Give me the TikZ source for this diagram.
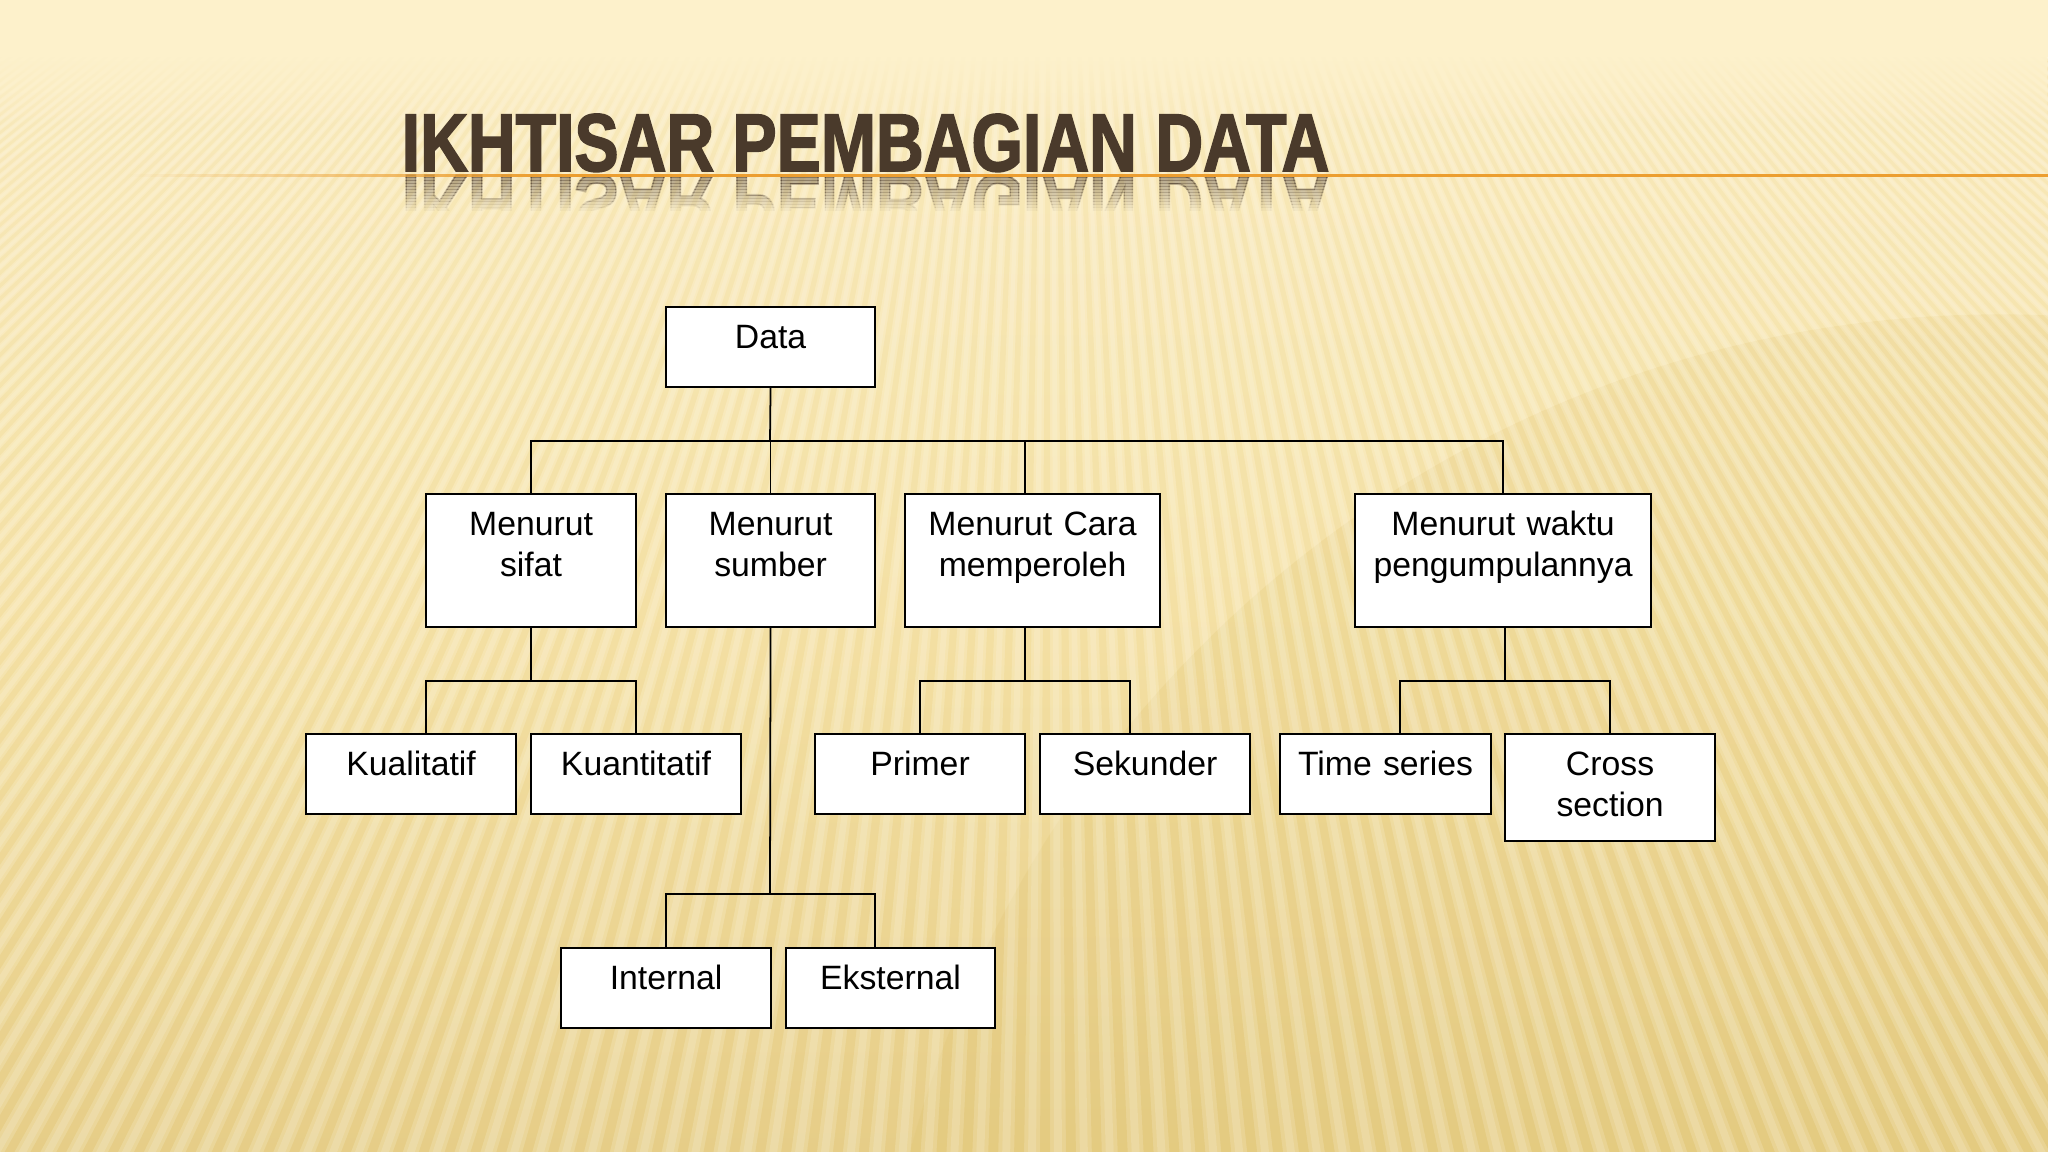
\documentclass[tikz,border=0pt]{standalone}
\usepackage{fontspec}
\setmainfont{Liberation Sans}
\newfontfamily\titlefam[BoldFeatures={FakeBold=2.2}]{Liberation Sans}
\usetikzlibrary{fadings}
\definecolor{bgtop}{RGB}{253,241,203}
\definecolor{bgupper}{RGB}{251,236,192}
\definecolor{bgmid}{RGB}{246,227,168}
\definecolor{bgbot}{RGB}{232,208,138}
\definecolor{titlebrown}{RGB}{74,58,43}
\definecolor{lineorange}{RGB}{236,158,48}
\definecolor{stripedark}{RGB}{190,150,60}
\definecolor{circlegold}{RGB}{220,190,100}
\tikzfading[name=fadeleft, left color=transparent!100, right color=transparent!0]
\tikzfading[name=fadedown, top color=transparent!0, bottom color=transparent!100]
\newcommand{\titletext}{\resizebox{9.27cm}{0.57cm}{\titlefam\bfseries IKHTISAR PEMBAGIAN DATA}}
\begin{document}
\begin{tikzpicture}[x=0.01cm,y=-0.01cm,
  box/.style={draw=black, fill=white, line width=0.5pt, inner sep=0pt, outer sep=0pt, anchor=north west},
  lbl/.style={font=\fontsize{9.6}{11.66}\selectfont, text width=3cm, align=center, inner sep=0pt, anchor=base, text=black},
  conn/.style={draw=black, line width=0.5pt},
  titlefont/.style={inner sep=0pt, anchor=base west, text=titlebrown}]
\useasboundingbox (0,0) rectangle (2048,1152);
% background
\fill[bgtop] (0,0) rectangle (2048,1152);
\shade[top color=bgupper, bottom color=bgbot, middle color=bgmid] (0,62) rectangle (2048,1152);
\fill[circlegold, opacity=0.16] (2000,1442) circle[radius=11.27cm];
\begin{scope}
  \clip (0,58) rectangle (2048,1152);
  \foreach \i in {0,...,197} {
    \pgfmathsetmacro{\b}{-1600+26*\i}
    \fill[white, opacity=0.13] (1050,-700) -- (\b-2,1160) -- (\b+14,1160) -- cycle;
    \fill[white, opacity=0.14] (1050,-700) -- (\b+2,1160) -- (\b+10,1160) -- cycle;
    \fill[stripedark, opacity=0.035] (1050,-700) -- (\b+14,1160) -- (\b+24,1160) -- cycle;
  }
\end{scope}
\fill[bgtop, path fading=fadedown] (0,55) rectangle (2048,130);
% title
\node[titlefont] (title) at (401,171) {\titletext};
\foreach \k in {0,...,11} {
  \pgfmathsetmacro{\op}{0.42*(1-\k/12)}
  \begin{scope}
    \clip (380,175+3*\k) rectangle (1360,178+3*\k);
    \node[titlefont, opacity=\op] (refl\k) at (401,175) {\scalebox{1}[-1]{\titletext}};
  \end{scope}
}
\fill[lineorange, path fading=fadeleft] (130,174.5) rectangle (540,177.5);
\fill[lineorange] (539,174.5) rectangle (2048,177.5);
% boxes
\node[box, minimum width=2.09cm, minimum height=0.80cm] (data) at (666,307) {};
\node[box, minimum width=2.10cm, minimum height=1.33cm] (sifat) at (426,494) {};
\node[box, minimum width=2.09cm, minimum height=1.33cm] (sumber) at (666,494) {};
\node[box, minimum width=2.55cm, minimum height=1.33cm] (cara) at (905,494) {};
\node[box, minimum width=2.96cm, minimum height=1.33cm] (waktu) at (1355,494) {};
\node[box, minimum width=2.10cm, minimum height=0.80cm] (kual) at (306,734) {};
\node[box, minimum width=2.10cm, minimum height=0.80cm] (kuan) at (531,734) {};
\node[box, minimum width=2.10cm, minimum height=0.80cm] (primer) at (815,734) {};
\node[box, minimum width=2.10cm, minimum height=0.80cm] (sekunder) at (1040,734) {};
\node[box, minimum width=2.11cm, minimum height=0.80cm] (time) at (1280,734) {};
\node[box, minimum width=2.10cm, minimum height=1.07cm] (cross) at (1505,734) {};
\node[box, minimum width=2.10cm, minimum height=0.80cm] (internal) at (561,948) {};
\node[box, minimum width=2.09cm, minimum height=0.80cm] (eksternal) at (786,948) {};
% labels
\node[lbl] (t-data) at ([yshift=-0.41cm]data.north) {Data};
\node[lbl] (t-sifat) at ([yshift=-0.41cm]sifat.north) {Menurut\\sifat};
\node[lbl] (t-sumber) at ([yshift=-0.41cm]sumber.north) {Menurut\\sumber};
\node[lbl] (t-cara) at ([yshift=-0.41cm]cara.north) {Menurut Cara\\memperoleh};
\node[lbl, text width=3.2cm] (t-waktu) at ([yshift=-0.41cm]waktu.north) {Menurut waktu\\pengumpulannya};
\node[lbl] (t-kual) at ([yshift=-0.41cm]kual.north) {Kualitatif};
\node[lbl] (t-kuan) at ([yshift=-0.41cm]kuan.north) {Kuantitatif};
\node[lbl] (t-primer) at ([yshift=-0.41cm]primer.north) {Primer};
\node[lbl] (t-sekunder) at ([yshift=-0.41cm]sekunder.north) {Sekunder};
\node[lbl] (t-time) at ([yshift=-0.41cm]time.north) {Time series};
\node[lbl] (t-cross) at ([yshift=-0.41cm]cross.north) {Cross\\section};
\node[lbl] (t-internal) at ([yshift=-0.41cm]internal.north) {Internal};
\node[lbl] (t-eksternal) at ([yshift=-0.41cm]eksternal.north) {Eksternal};
% connectors
\coordinate (j0) at (770,441);
\coordinate (j1) at (531,681);
\coordinate (j3) at (1025,681);
\coordinate (j4) at (1505,681);
\coordinate (j2) at (770,894);
\draw[conn] (data.south) -- (j0);
\draw[conn] (sifat.north) -- (sifat.north |- j0) -- (waktu.north |- j0) -- (waktu.north);
\draw[conn] (sumber.north) -- (sumber.north |- j0);
\draw[conn] (cara.north -| j3) -- (j3 |- j0);
% sifat subtree
\draw[conn] (sifat.south) -- (j1);
\draw[conn] (kual.north -| sifat.south west) -- (j1 -| sifat.south west) -- (j1 -| sifat.south east) -- (kuan.north -| sifat.south east);
% cara subtree
\draw[conn] (cara.south -| j3) -- (j3);
\draw[conn] (primer.north) -- (primer.north |- j3) -- ([xshift=2.10cm]primer.north |- j3) -- ([xshift=2.10cm]primer.north);
% waktu subtree
\draw[conn] (waktu.south -| j4) -- (j4);
\draw[conn] ([xshift=0.145cm]time.north) -- ([xshift=0.145cm]time.north |- j4) -- (cross.north |- j4) -- (cross.north);
% sumber subtree
\draw[conn] (sumber.south) -- (j2);
\draw[conn] (internal.north) -- (internal.north |- j2) -- ([xshift=-0.155cm]eksternal.north |- j2) -- ([xshift=-0.155cm]eksternal.north);
\end{tikzpicture}
\end{document}
